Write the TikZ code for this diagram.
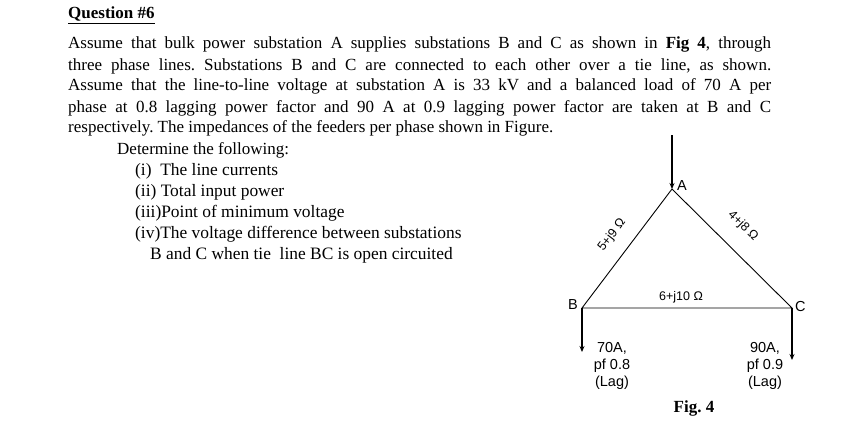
\documentclass[tikz,border=0pt]{standalone}
\usepackage{fontspec}
\setmainfont{Liberation Serif}
\newfontfamily\arial{Liberation Sans}
\usetikzlibrary{arrows.meta}
\tikzset{
  wire/.style={line width=0.9pt},
  load/.style={line width=1.2pt,-{Stealth[length=6pt,width=5pt]}},
  lbl/.style={font=\arial\fontsize{14.5}{17}\selectfont,inner sep=1pt},
  rlbl/.style={font=\arial\fontsize{12.5}{14}\selectfont,inner sep=1pt},
  body/.style={font=\fontsize{17}{21}\selectfont,inner sep=0,anchor=north west},
}
\begin{document}
\frenchspacing
\begin{tikzpicture}[x=1pt,y=-1pt]
\useasboundingbox (0,0) rectangle (865,440);
\node[body,font=\bfseries\fontsize{17}{21}\selectfont] (q) at (68,7) {\underline{Question \#6}};
\node[body,text width=703pt,align=justify] (p) at (68,37) {Assume that bulk power substation A supplies substations B and C as shown in \textbf{Fig 4}, through\linebreak three phase lines. Substations B and C are connected to each other over a tie line, as shown.\linebreak Assume that the line-to-line voltage at substation A is 33 kV and a balanced load of 70 A per\linebreak phase at 0.8 lagging power factor and 90 A at 0.9 lagging power factor are taken at B and C\linebreak respectively. The impedances of the feeders per phase shown in Figure.};
\node[body] (d) at (117,142) {Determine the following:};
\node[body,align=left,font=\fontsize{17.4}{21}\selectfont] (l) at (135,163) {(i)\ \ The line currents\\(ii) Total input power\\(iii)Point of minimum voltage\\(iv)The voltage difference between substations\\\hspace{15pt}B and C when tie\ \ line BC is open circuited};
\coordinate (A) at (672,189);
\coordinate (B) at (582,308);
\coordinate (C) at (792,308);
\coordinate (top) at (672,135);
\coordinate (Bl) at (582,352);
\coordinate (Cl) at (792,360);
\draw[wire] (A) -- (B) -- (C) -- cycle;
\draw[load] (top) -- (A);
\draw[load] (B) -- (Bl);
\draw[load] (C) -- (Cl);
\node[lbl,anchor=west] (la) at (676,186) {A};
\node[lbl,anchor=east] (lb) at (579,305) {B};
\node[lbl,anchor=west] (lc) at (794,307) {C};
\node[rlbl,rotate=52.9] (ab) at (612,235) {5+j9 Ω};
\node[rlbl,rotate=-44.8] (ac) at (743,226) {4+j8 Ω};
\node[rlbl] (bc) at (681,297) {6+j10 Ω};
\node[lbl,align=center] (bload) at (612,366) {70A,\\pf 0.8\\(Lag)};
\node[lbl,align=center] (cload) at (765,366) {90A,\\pf 0.9\\(Lag)};
\node[body,font=\bfseries\fontsize{17}{21}\selectfont,anchor=center] (fig) at (694,408) {Fig. 4};
\end{tikzpicture}
\end{document}
